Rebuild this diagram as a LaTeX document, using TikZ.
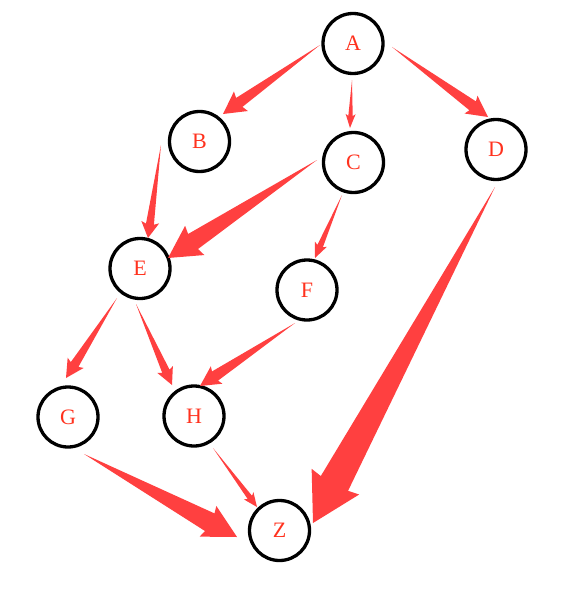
\documentclass[tikz,border=0pt]{standalone}
\usepackage{fontspec}
\setmainfont{Liberation Serif}
\usetikzlibrary{calc}
\definecolor{arrowred}{RGB}{255,64,64}
\definecolor{labelred}{RGB}{255,50,30}
\newcommand\taperarrow[5]{%
  \coordinate (tmpH) at ($(#2)!#5!(#1)$);
  \coordinate (tmpB) at ($(#2)!#5+2pt!(#1)$);
  \fill[arrowred] (#1) -- ($(tmpH)!#3!90:(#2)$) -- ($(tmpB)!#4!90:(#2)$) -- (#2)
     -- ($(tmpB)!#4!-90:(#2)$) -- ($(tmpH)!#3!-90:(#2)$) -- cycle;
}
\tikzset{
  vertex/.style={circle, draw=black, line width=3.3pt, minimum size=60pt, inner sep=0pt,
    text=labelred, font=\fontsize{22}{22}\selectfont}
}
\begin{document}
\begin{tikzpicture}[x=1pt,y=-1pt]
\useasboundingbox (0,0) rectangle (578,594);
% nodes
\node[vertex] (A) at (353,43.5) {A};
\node[vertex] (B) at (199.5,141.5) {B};
\node[vertex] (C) at (353.5,162.5) {C};
\node[vertex] (D) at (496,149.5) {D};
\node[vertex] (E) at (140,268.5) {E};
\node[vertex] (F) at (307,290) {F};
\node[vertex] (G) at (68,417) {G};
\node[vertex] (H) at (194,416) {H};
\node[vertex] (Z) at (279.5,530.5) {Z};
% connector ends
\coordinate (ab0) at (320,45);  \coordinate (ab1) at (223,114);
\coordinate (ac0) at (352,80);  \coordinate (ac1) at (350,128);
\coordinate (ad0) at (392,47);  \coordinate (ad1) at (488,117);
\coordinate (be0) at (161,145); \coordinate (be1) at (148,238);
\coordinate (ce0) at (317,160); \coordinate (ce1) at (168,258);
\coordinate (cf0) at (342,195); \coordinate (cf1) at (315,258);
\coordinate (eg0) at (117,298); \coordinate (eg1) at (66,378);
\coordinate (eh0) at (136,304); \coordinate (eh1) at (172,385);
\coordinate (fh0) at (295,323); \coordinate (fh1) at (200,386);
\coordinate (gz0) at (84,454);  \coordinate (gz1) at (237,537);
\coordinate (hz0) at (213,448); \coordinate (hz1) at (257,507);
\coordinate (dz0) at (495,187); \coordinate (dz1) at (313,523);
% connectors
\taperarrow{ab0}{ab1}{5.5pt}{12pt}{20pt}
\taperarrow{ac0}{ac1}{2.2pt}{5pt}{12pt}
\taperarrow{ad0}{ad1}{5.5pt}{11pt}{19pt}
\taperarrow{be0}{be1}{4pt}{9pt}{14pt}
\taperarrow{ce0}{ce1}{9pt}{17.5pt}{30pt}
\taperarrow{cf0}{cf1}{3pt}{6.5pt}{13pt}
\taperarrow{eg0}{eg1}{4.5pt}{9.5pt}{16pt}
\taperarrow{eh0}{eh1}{4pt}{8.5pt}{15pt}
\taperarrow{fh0}{fh1}{5.5pt}{10.5pt}{18pt}
\taperarrow{gz0}{gz1}{10pt}{17.5pt}{31pt}
\taperarrow{hz0}{hz1}{2.7pt}{6pt}{12pt}
\taperarrow{dz0}{dz1}{15.5pt}{27pt}{45pt}
\end{tikzpicture}
\end{document}
